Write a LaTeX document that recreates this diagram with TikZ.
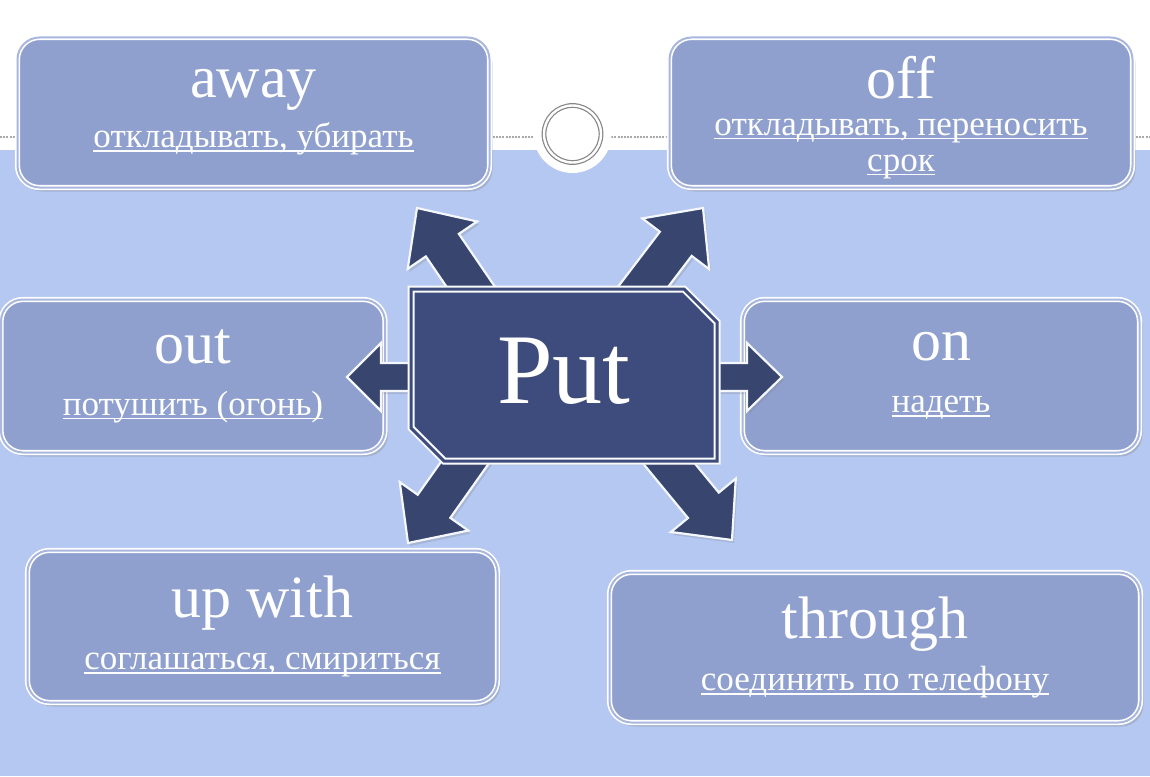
\documentclass[tikz,border=0pt]{standalone}
\usepackage{fontspec}
\setmainfont{Liberation Serif}
\newfontfamily\rufont[Script=Cyrillic]{Liberation Serif}
\usetikzlibrary{calc,shadows,shapes.misc}

\definecolor{bgblue}{HTML}{B4C8F2}
\definecolor{boxblue}{HTML}{8FA0CF}
\definecolor{rimblue}{HTML}{A9B7DF}
\definecolor{putblue}{HTML}{3D4C7C}
\definecolor{arrowblue}{HTML}{38466F}
\definecolor{ringgray}{HTML}{858585}

\pgfdeclarelayer{front}
\pgfsetlayers{main,front}

\newsavebox{\subbox}
\newcommand{\wsub}[1]{{\rufont\fontsize{35pt}{40pt}\selectfont\sbox{\subbox}{#1}%
  \rlap{\rule[-4pt]{\wd\subbox}{1.4pt}}\usebox{\subbox}}}
\newcommand{\fatarrow}[5]{%
  \coordinate (fa) at (#1);
  \coordinate (fh) at ($(#2)!#5!(fa)$);
  \path[fatarrow] ($(fa)!#3!90:(#2)$) -- ($(fh)!#3!90:(#2)$) -- ($(fh)!#4!90:(#2)$)
    -- (#2) -- ($(fh)!#4!-90:(#2)$) -- ($(fh)!#3!-90:(#2)$) -- ($(fa)!#3!-90:(#2)$) -- cycle;}

\begin{document}
\begin{tikzpicture}
    [ x=1pt, y=-1pt,
      wordbox/.style={rounded corners=22pt, fill=boxblue, draw=white, line width=1.6pt,
        double=rimblue, double distance=2pt, align=center, text=white, inner sep=0pt,
        font=\fontsize{60pt}{52pt}\selectfont,
        drop shadow={shadow xshift=3pt, shadow yshift=-4pt, opacity=0.3}},
      putbox/.style={chamfered rectangle, chamfered rectangle corners={north east,south west},
        chamfered rectangle xsep=30pt, fill=putblue, draw=white!92!bgblue, line width=2pt,
        double=putblue, double distance=3pt, text=white, inner sep=0pt,
        minimum width=306pt, minimum height=172pt, font=\fontsize{100pt}{100pt}\selectfont,
        drop shadow={shadow xshift=3pt, shadow yshift=-4pt, opacity=0.3}},
      fatarrow/.style={fill=arrowblue, draw=white!85!bgblue, line width=2.2pt, line join=miter,
        drop shadow={shadow xshift=2pt, shadow yshift=-3pt, opacity=0.25}},
      dotline/.style={draw=ringgray!70, line width=1.2pt, dash pattern=on 2pt off 1.2pt},
      ringline/.style={draw=ringgray, line width=1.2pt, double=white, double distance=2.4pt} ]

    \useasboundingbox (0,0) rectangle (1150,776);
    \fill[white] (0,0) rectangle (1150,776);
    \fill[bgblue] (0,150) rectangle (1150,776);
    \draw[dotline] (0,137) -- (1150,137);
    \fill[white] (572.5,134) circle (39pt);
    \draw[ringline] (572.5,134) circle (28.5pt);

    \node[wordbox, minimum width=472pt, minimum height=150pt] (away) at (253.5,112.5)
        {away\\[-2pt] \wsub{откладывать,\ убирать}};
    \node[wordbox, minimum width=463pt, minimum height=150pt] (off) at (901,112.5)
        {\raisebox{0pt}[52pt][0pt]{off}\\[-15pt] \wsub{откладывать,\ переносить}\\[-16pt] \wsub{срок}};
    \node[wordbox, minimum width=384pt, minimum height=153pt] (out) at (193,376)
        {out\\ \wsub{потушить (огонь)}};
    \node[wordbox, minimum width=397pt, minimum height=153pt] (on) at (941,376)
        {on\\ \wsub{надеть}};
    \node[wordbox, minimum width=470pt, minimum height=152pt] (upwith) at (262.5,626.5)
        {up with\\ \wsub{соглашаться, смириться}};
    \node[wordbox, minimum width=531pt, minimum height=150pt] (through) at (875,647.5)
        {through\\ \wsub{соединить по телефону}};

    \begin{pgfonlayer}{front}
    \node[putbox] (put) at (564,375) {\raisebox{5pt}[66pt][0pt]{Put}};
    \end{pgfonlayer}

    \coordinate (awaytip) at (417,208);
    \coordinate (offtip) at (703,208);
    \coordinate (outtip) at (347,377);
    \coordinate (ontip) at (782,377);
    \coordinate (upwithtip) at (408,543);
    \coordinate (throughtip) at (732,540);

    \fatarrow{[xshift=-33pt]put.center}{awaytip}{20pt}{42pt}{45pt}
    \fatarrow{[xshift=12pt]put.center}{offtip}{20pt}{42pt}{45pt}
    \fatarrow{[xshift=-37pt]put.center}{upwithtip}{20pt}{42pt}{45pt}
    \fatarrow{[xshift=32pt]put.center}{throughtip}{20pt}{42pt}{45pt}
    \fatarrow{[yshift=-2pt]put.center}{outtip}{14pt}{34pt}{34pt}
    \fatarrow{[yshift=-2pt]put.center}{ontip}{14pt}{34pt}{35pt}

\end{tikzpicture}
\end{document}
